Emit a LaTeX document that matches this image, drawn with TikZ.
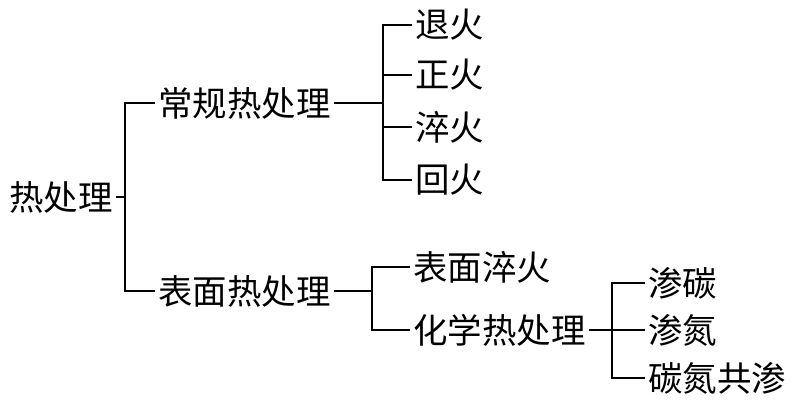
\documentclass[tikz,border=0pt]{standalone}
\usepackage{fontspec}
\setmainfont{Noto Sans CJK SC}
\usepackage{tikz}
\usetikzlibrary{positioning}
\tikzset{
  item/.style={inner sep=0.075cm, font=\fontsize{24.5}{28}\selectfont},
  leaf/.style={item, anchor=west},
  link/.style={line width=1.2pt, line join=miter},
}
\begin{document}
\begin{tikzpicture}
  \useasboundingbox (0,0) rectangle (20,10.15);
  \node[item, anchor=east] (heat) at (2.9,5.225) {热处理};
  \node[leaf] (conv) at (3.875,7.575) {常规热处理};
  \node[leaf] (surf) at (3.875,2.875) {表面热处理};
  \node[leaf] (anneal) at (10.3,9.525) {退火};
  \node[leaf] (normal) at (10.3,8.275) {正火};
  \node[leaf] (quench) at (10.3,6.975) {淬火};
  \node[leaf] (temper) at (10.3,5.65) {回火};
  \node[leaf] (surfq) at (10.25,3.475) {表面淬火};
  \node[leaf] (chem) at (10.25,1.9) {化学热处理};
  \node[leaf] (carb) at (16.125,3.075) {渗碳};
  \node[leaf] (nitr) at (16.125,1.9) {渗氮};
  \node[leaf] (carbnitr) at (16.125,0.7) {碳氮共渗};
  \coordinate (j0) at (3.125,5.225);
  \coordinate (j1) at (9.575,7.575);
  \coordinate (j2) at (9.3,2.875);
  \coordinate (j3) at (15.3,1.9);
  \draw[link] (heat.east) -- (j0);
  \draw[link] (j0) |- (conv.west);
  \draw[link] (j0) |- (surf.west);
  \draw[link] (conv.east) -- (j1);
  \foreach \n in {anneal, normal, quench, temper}
    \draw[link] (j1) |- (\n.west);
  \draw[link] (surf.east) -- (j2);
  \draw[link] (j2) |- (surfq.west);
  \draw[link] (j2) |- (chem.west);
  \draw[link] (chem.east) -- (j3);
  \foreach \n in {carb, nitr, carbnitr}
    \draw[link] (j3) |- (\n.west);
\end{tikzpicture}
\end{document}
